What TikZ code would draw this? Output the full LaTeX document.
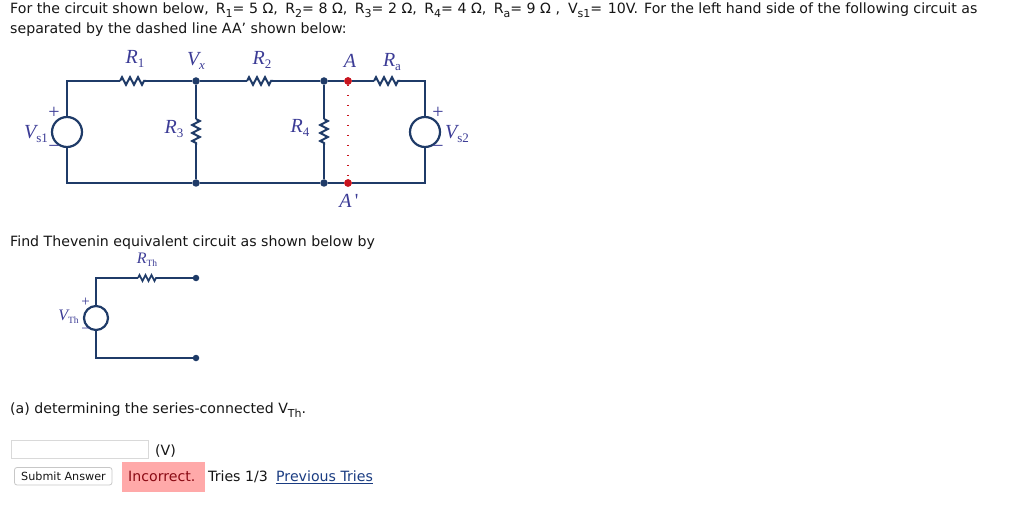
\documentclass[tikz,border=0pt]{standalone}
\usepackage{fontspec}
\setmainfont{DejaVu Sans}
\newfontfamily\lblfont{Liberation Serif}
\usetikzlibrary{calc,decorations.pathmorphing,positioning}
\definecolor{wirecol}{HTML}{1F3B68}
\definecolor{lblcol}{HTML}{3C3C96}
\definecolor{redcol}{HTML}{C8141E}
\definecolor{linkcol}{HTML}{1A3C82}
\definecolor{txtcol}{HTML}{161616}
\definecolor{failcol}{HTML}{FFA9A9}
\definecolor{failtxt}{HTML}{8A0A14}
\newcommand{\subtxt}[1]{\raisebox{-0.25em}{\fontsize{11}{12}\selectfont #1}}
\newcommand{\lbl}[2]{{\lblfont\itshape #1}\raisebox{-0.2em}{\lblfont\fontsize{13}{14}\selectfont #2}}
\newcommand{\gapfix}[1]{\hspace{#1pt}}
\tikzset{
wire/.style={draw=wirecol,line width=2.2pt},
res/.style={wire,line width=2pt,decorate,decoration={zigzag,segment length=8pt,amplitude=3.8pt}},
dot/.style={circle,fill=wirecol,inner sep=0pt,minimum size=7.5pt},
reddot/.style={circle,fill=redcol,inner sep=0pt,minimum size=7.5pt},
src/.style={circle,wire,inner sep=0pt,minimum size=30pt},
srcsmall/.style={circle,wire,inner sep=0pt,minimum size=24pt},
sign/.style={text=lblcol,inner sep=0pt,font=\lblfont\fontsize{20}{20}\selectfont},
lab/.style={text=lblcol,inner sep=0pt,font=\lblfont\fontsize{20}{20}\selectfont},
labsmall/.style={text=lblcol,inner sep=0pt,font=\lblfont\fontsize{16}{16}\selectfont},
txt/.style={anchor=base west,inner sep=0pt,text=txtcol,font=\fontsize{14.15}{16}\selectfont},
}
\begin{document}
\begin{tikzpicture}[x=1pt,y=-1pt]
\useasboundingbox (0,0) rectangle (1024,521);
\fill[white] (0,0) rectangle (1024,521);
% question text
\node[txt] (line1) at (10,13.5) {For the circuit shown below,\gapfix{2.5} R\subtxt{1}= 5 Ω,\gapfix{3} R\subtxt{2}= 8 Ω,\gapfix{3} R\subtxt{3}= 2 Ω,\gapfix{3} R\subtxt{4}= 4 Ω,\gapfix{3} R\subtxt{a}= 9 Ω ,\gapfix{3.5} V\subtxt{s1}=\gapfix{1} 10V.\gapfix{1.5} For the left hand side of the following circuit as};
\node[txt] (line2) at (10,34) {separated by the dashed line AA' shown below:};
\node[txt] (line3) at (10,247) {Find Thevenin equivalent circuit as shown below by};
\node[txt] (line4) at (10,413.5) {(a) determining the series-connected V\subtxt{Th}.};
% main circuit
\node[src] (Vs1) at (67,132) {};
\node[src] (Vs2) at (425,132) {};
\node[dot] (Vx) at (196,81) {};
\node[dot] (T4) at (324,81) {};
\node[reddot] (A) at (348,81) {};
\node[dot] (B3) at (196,183) {};
\node[dot] (B4) at (324,183) {};
\node[reddot] (A2) at (348,183) {};
\coordinate (TL) at (67,81);
\coordinate (TR) at (425,81);
\coordinate (BL) at (67,183);
\coordinate (BR) at (425,183);
\coordinate (R1a) at (120,81);
\coordinate (R1b) at (146,81);
\coordinate (R2a) at (247,81);
\coordinate (R2b) at (273,81);
\coordinate (Raa) at (374,81);
\coordinate (Rab) at (400,81);
\coordinate (R3a) at (196,119);
\coordinate (R3b) at (196,145);
\coordinate (R4a) at (324,119);
\coordinate (R4b) at (324,145);
\draw[wire] (Vs1.north) -- (TL) -- (R1a);
\draw[res] (R1a) -- (R1b);
\draw[wire] (R1b) -- (Vx) -- (R2a);
\draw[res] (R2a) -- (R2b);
\draw[wire] (R2b) -- (T4) -- (A) -- (Raa);
\draw[res] (Raa) -- (Rab);
\draw[wire] (Rab) -- (TR) -- (Vs2.north);
\draw[wire] (Vs1.south) -- (BL) -- (B3) -- (B4) -- (A2) -- (BR) -- (Vs2.south);
\draw[wire] (Vx) -- (R3a);
\draw[res] (R3a) -- (R3b);
\draw[wire] (R3b) -- (B3);
\draw[wire] (T4) -- (R4a);
\draw[res] (R4a) -- (R4b);
\draw[wire] (R4b) -- (B4);
\draw[redcol,line width=1.5pt,dash pattern=on 1.5pt off 8.5pt] (A) -- (A2);
\node[reddot] at (A) {};
\node[reddot] at (A2) {};
% main circuit labels
\node[lab] (lR1) at (135,59) {\lbl{R}{1}};
\node[lab] (lVx) at (196,61) {\lbl{V}{\itshape x}};
\node[lab] (lR2) at (262,60) {\lbl{R}{2}};
\node[lab] (lA) at (350,61) {{\itshape A}};
\node[lab] (lRa) at (392,62) {\lbl{R}{a}};
\node[lab] (lA2) at (349,201) {{\itshape A}\,'};
\node[lab] (lR3) at (174,129) {\lbl{R}{3}};
\node[lab] (lR4) at (300,128) {\lbl{R}{4}};
\node[lab] (lVs1) at (36,134) {\lbl{V}{s1}};
\node[lab] (lVs2) at (457,134) {\lbl{V}{s2}};
\node[sign] (p1) at (54,113) {+};
\node[sign] (m1) at (54,149) {\textminus};
\node[sign] (p2) at (438,113) {+};
\node[sign] (m2) at (438,149) {\textminus};
% thevenin circuit
\node[srcsmall] (VTh) at (96,318) {};
\node[dot,minimum size=6.5pt] (TTop) at (196,278) {};
\node[dot,minimum size=6.5pt] (TBot) at (196,358) {};
\coordinate (ThTL) at (96,278);
\coordinate (ThBL) at (96,358);
\coordinate (RTa) at (138,278);
\coordinate (RTb) at (157,278);
\draw[wire] (VTh.north) -- (ThTL) -- (RTa);
\draw[res,line width=1.6pt,decoration={zigzag,segment length=6pt,amplitude=3pt}] (RTa) -- (RTb);
\draw[wire] (RTb) -- (TTop);
\draw[wire] (VTh.south) -- (ThBL) -- (TBot);
\node[labsmall] (lRTh) at (147,260) {{\itshape R}\raisebox{-0.2em}{\fontsize{9.5}{10}\selectfont Th}};
\node[labsmall] (lVTh) at (68.5,317) {{\itshape V}\raisebox{-0.2em}{\fontsize{9.5}{10}\selectfont Th}};
\node[sign,font=\lblfont\fontsize{15}{15}\selectfont] (p3) at (85.5,302) {+};
\node[sign,font=\lblfont\fontsize{15}{15}\selectfont] (m3) at (85.5,331) {\textminus};
% answer form
\draw[draw=black!15,line width=0.8pt,fill=white] (11.5,440.5) rectangle (148,458);
\node[txt] (unit) at (155,455) {(V)};
\draw[draw=black!22,line width=0.8pt,fill=white,rounded corners=2.5pt] (14.5,467.5) rectangle (112,485);
\node[inner sep=0pt,text=txtcol,font=\fontsize{11.2}{13}\selectfont] (submit) at (63.5,476.5) {Submit Answer};
\fill[failcol] (122,462) rectangle (205,492);
\node[txt,text=failtxt] (fail) at (128,481.5) {Incorrect.};
\node[txt] (tries) at (208,481.5) {Tries 1/3};
\node[txt,text=linkcol] (prev) at (276,481.5) {\underline{Previous Tries}};
\end{tikzpicture}
\end{document}
